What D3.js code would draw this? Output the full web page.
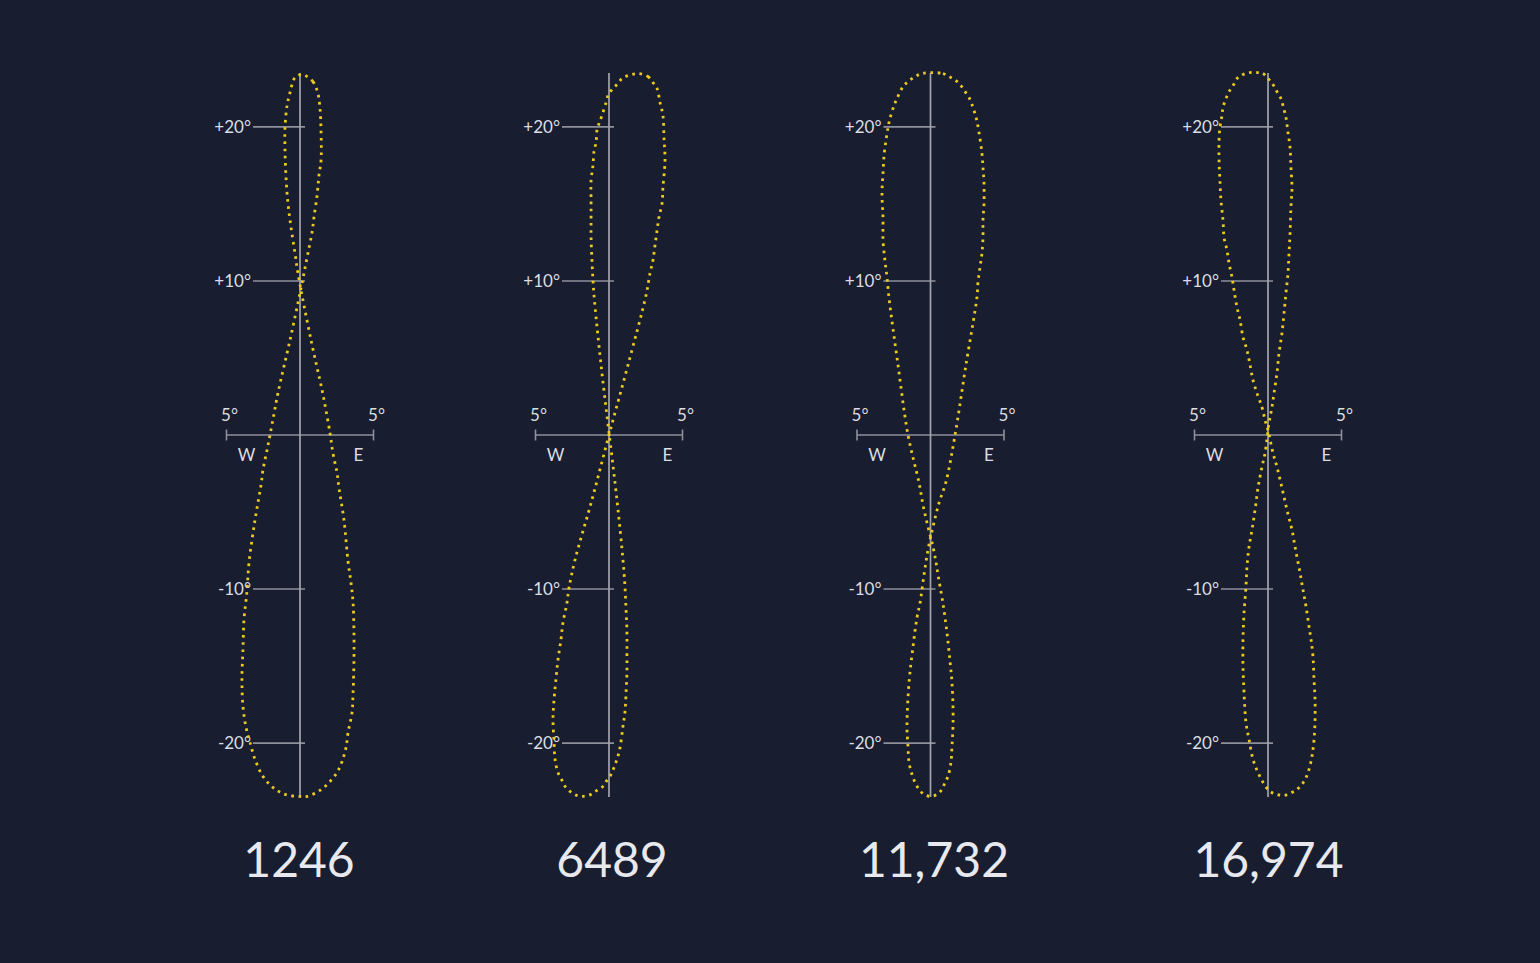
<!DOCTYPE html>
<html>
<head>
<meta charset="utf-8">
<script src="https://cdn.jsdelivr.net/npm/d3@7"></script>
<style>
  html, body { margin: 0; padding: 0; background: #181e2f; }
  svg { display: block; }
  text { font-family: Lato, "Open Sans", sans-serif; }
</style>
</head>
<body>
<script>
// years shown under each analemma
var years = [1246, 6489, 11732, 16974];
var yearLabels = ['1246', '6489', '11,732', '16,974'];

// declination ticks (degrees) and their labels
var decTicks = [20, 10, -10, -20];
var decTickLabels = ['+20°', '+10°', '-10°', '-20°'];

// east-west extent of the small horizontal axis
var ewTicks = [-5, 5];
var ewTickLabels = ['5°', '5°'];
var ewNames = ['W', 'E'];

// analemma outlines: [east-west offset (deg), declination (deg)]
var loop1246 = [
  [0.14, 23.40], [0.88, 22.94], [1.22, 22.16], [1.36, 21.19], [1.43, 19.77],
  [1.43, 17.82], [1.29, 16.85], [1.16, 15.55], [0.95, 14.13], [0.82, 13.16],
  [0.54, 11.80], [0.27, 10.50], [0.04, 9.40], [-0.68, 6.16], [-1.50, 2.72],
  [-1.77, 1.36], [-2.04, 0], [-2.24, -0.97], [-2.52, -2.27], [-2.65, -3.24],
  [-3.06, -5.51], [-3.47, -8.30], [-3.61, -10.17], [-3.81, -11.99], [-3.88, -13.93],
  [-3.95, -15.88], [-3.88, -17.63], [-3.67, -18.99], [-3.40, -19.96], [-3.06, -21.06],
  [-2.52, -22.16], [-1.84, -22.88], [-1.02, -23.33], [-0.07, -23.46], [0.48, -23.46],
  [1.36, -23.07], [2.04, -22.49], [2.52, -21.91], [2.86, -21.19], [3.13, -20.29],
  [3.27, -19.31], [3.54, -18.02], [3.61, -16.72], [3.67, -14.58], [3.67, -12.83],
  [3.61, -10.89], [3.47, -9.59], [3.27, -8.23], [2.99, -5.51], [2.65, -3.43],
  [2.52, -2.46], [2.24, -1.17], [2.04, 0.13], [1.70, 1.94], [1.50, 2.92],
  [0.75, 6.16], [-0.14, 10.50], [-0.34, 11.80], [-0.61, 13.48], [-0.82, 15.04],
  [-0.95, 16.72], [-1.02, 18.47], [-1.02, 19.96], [-0.88, 21.39], [-0.68, 22.23],
  [-0.34, 23.20]
];

var loop6489 = [
  [1.97, 23.46], [2.65, 23.27], [2.99, 22.88], [3.27, 22.49], [3.47, 21.58],
  [3.67, 20.74], [3.74, 19.31], [3.81, 17.82], [3.67, 16.07], [3.61, 15.04],
  [3.40, 14.13], [3.27, 13.29], [3.13, 12.31], [2.99, 11.34], [2.79, 10.50],
  [2.52, 9.07], [1.29, 4.54], [0, 0], [-1.16, -4.21], [-2.31, -8.10],
  [-2.72, -9.92], [-2.86, -10.89], [-3.13, -12.18], [-3.27, -13.29], [-3.47, -14.58],
  [-3.61, -15.88], [-3.74, -17.17], [-3.81, -18.47], [-3.74, -19.90], [-3.67, -21.06],
  [-3.47, -21.91], [-3.20, -22.42], [-2.99, -22.81], [-2.65, -23.14], [-2.18, -23.40],
  [-1.77, -23.46], [-1.22, -23.33], [-0.82, -23.07], [-0.41, -22.81], [-0.14, -22.42],
  [0.14, -22.03], [0.34, -21.58], [0.54, -21.06], [0.75, -20.29], [0.95, -18.92],
  [1.09, -17.95], [1.16, -16.72], [1.22, -15.42], [1.22, -14.13], [1.22, -12.83],
  [1.16, -11.34], [1.09, -9.92], [0.95, -8.10], [0.54, -4.21], [-0.54, 4.54],
  [-1.02, 9.07], [-1.09, 10.05], [-1.16, 11.34], [-1.22, 12.83], [-1.22, 14.13],
  [-1.22, 15.23], [-1.22, 16.53], [-1.09, 17.50], [-1.02, 18.41], [-0.88, 18.99],
  [-0.82, 19.77], [-0.68, 20.22], [-0.48, 20.74], [-0.20, 21.58], [-0.07, 22.03],
  [0.20, 22.42], [0.54, 22.75], [0.88, 23.14], [1.29, 23.33]
];

var loop11732 = [
  [0.10, 23.53], [0.85, 23.46], [1.26, 23.27], [1.73, 23.01], [2.07, 22.68],
  [2.35, 22.29], [2.62, 21.91], [2.82, 21.45], [3.10, 20.61], [3.30, 19.64],
  [3.50, 18.28], [3.57, 17.37], [3.64, 16.33], [3.64, 15.04], [3.57, 13.93],
  [3.57, 12.83], [3.50, 11.80], [3.37, 10.89], [3.23, 9.92], [3.16, 8.94],
  [2.41, 4.54], [1.67, 0], [1.05, -3.05], [0.58, -4.41], [0.17, -5.96],
  [-0.17, -7.45], [-0.44, -9.07], [-0.71, -10.89], [-0.92, -11.86], [-1.19, -13.74],
  [-1.46, -16.07], [-1.60, -18.92], [-1.53, -20.22], [-1.46, -21.26], [-1.26, -22.03],
  [-1.05, -22.55], [-0.78, -23.01], [-0.44, -23.33], [0.03, -23.46], [0.44, -23.33],
  [0.78, -23.01], [0.99, -22.55], [1.19, -22.16], [1.39, -21.26], [1.46, -20.22],
  [1.53, -18.92], [1.53, -17.63], [1.46, -16.07], [1.33, -14.71], [1.12, -12.83],
  [0.85, -10.95], [0.51, -9.07], [0.37, -8.23], [0.17, -7.26], [-0.17, -5.96],
  [-0.51, -4.54], [-0.78, -3.11], [-1.53, 0], [-2.21, 4.54], [-2.82, 8.88],
  [-2.96, 10.24], [-3.10, 11.34], [-3.23, 12.64], [-3.23, 14.13], [-3.30, 15.68],
  [-3.23, 16.98], [-3.16, 18.15], [-3.03, 19.12], [-2.89, 19.96], [-2.76, 20.54],
  [-2.48, 21.39], [-2.28, 21.84], [-1.87, 22.62], [-1.53, 22.94], [-1.05, 23.27],
  [-0.58, 23.46]
];

var loop16974 = [
  [-0.75, 23.53], [-0.34, 23.46], [0, 23.14], [0.34, 22.75], [0.61, 22.29],
  [0.88, 21.84], [1.02, 21.39], [1.22, 20.61], [1.36, 19.64], [1.50, 18.66],
  [1.56, 17.37], [1.63, 16.07], [1.56, 14.78], [1.50, 13.09], [1.43, 11.80],
  [1.36, 10.50], [1.22, 9.20], [1.09, 7.91], [0.95, 6.61], [0.75, 5.31],
  [0.61, 4.02], [0.41, 2.72], [0.27, 1.81], [0.07, 0.78], [-0.20, -1.17],
  [-0.41, -2.07], [-0.68, -3.43], [-0.88, -4.86], [-1.09, -6.16], [-1.29, -7.26],
  [-1.43, -8.55], [-1.50, -9.85], [-1.63, -11.54], [-1.70, -13.29], [-1.70, -15.04],
  [-1.63, -16.72], [-1.50, -18.66], [-1.29, -19.77], [-1.02, -21.06], [-0.68, -21.91],
  [-0.34, -22.55], [0.14, -23.14], [0.61, -23.33], [1.09, -23.40], [1.63, -23.20],
  [1.97, -23.01], [2.31, -22.68], [2.59, -22.23], [2.79, -21.71], [2.99, -20.87],
  [3.13, -19.77], [3.20, -18.47], [3.20, -17.17], [3.13, -15.88], [3.06, -14.39],
  [2.93, -13.29], [2.79, -12.44], [2.59, -11.15], [2.38, -10.05], [2.18, -8.94],
  [1.90, -7.58], [1.63, -6.16], [1.29, -4.86], [0.95, -3.43], [0.61, -2.07],
  [0.34, -1.17], [0, 0.32], [-0.20, 0.97], [-0.41, 1.81], [-0.75, 2.72],
  [-1.02, 3.56], [-1.22, 4.54], [-1.43, 5.51], [-1.70, 6.35], [-1.90, 7.45],
  [-2.11, 8.30], [-2.31, 9.40], [-2.45, 10.24], [-2.65, 11.15], [-2.79, 11.99],
  [-2.99, 12.83], [-3.06, 13.93], [-3.20, 15.23], [-3.27, 16.53], [-3.33, 17.82],
  [-3.33, 19.12], [-3.27, 19.96], [-3.13, 20.74], [-3.06, 21.26], [-2.86, 21.84],
  [-2.65, 22.29], [-2.38, 22.68], [-2.11, 23.14], [-1.70, 23.40], [-1.22, 23.53]
];

var loops = [loop1246, loop6489, loop11732, loop16974];

var width = 1540,
    height = 963,
    centers = [300, 609, 930.5, 1268],        // panel centre lines
    labelCenters = [299, 612, 934, 1268.5],   // year labels sit a touch off-centre
    halfAxis = 73.5;                           // px for 5 degrees

var svg = d3.select('body')
    .append('svg')
     .attr('width', width)
     .attr('height', height);

svg.append('rect')
    .attr('width', width)
    .attr('height', height)
    .attr('fill', '#181e2f');

var y = d3.scaleLinear()
    .domain([-23.5, 23.5])
    .range([797, 73]);

var line = d3.line()
    .curve(d3.curveCatmullRomClosed.alpha(0.5));

years.forEach(function(year, i) {
  var cx = centers[i];
  var x = d3.scaleLinear()
      .domain([-5, 5])
      .range([cx - halfAxis, cx + halfAxis]);

  var g = svg.append('g').attr('class', 'panel');

  // declination ticks
  g.selectAll('line.dtick')
    .data(decTicks)
    .enter().append('line')
     .attr('class', 'dtick')
     .attr('x1', cx - 47).attr('x2', cx + 5)
     .attr('y1', function(d) { return y(d); })
     .attr('y2', function(d) { return y(d); })
     .attr('stroke', '#8e919b')
     .attr('stroke-width', 1.6);

  g.selectAll('text.dlabel')
    .data(decTicks)
    .enter().append('text')
     .attr('class', 'dlabel')
     .attr('x', cx - 49)
     .attr('y', function(d) { return y(d) + 6; })
     .attr('text-anchor', 'end')
     .attr('font-size', 17)
     .attr('fill', '#dcdde3')
     .text(function(d, j) { return decTickLabels[j]; });

  // east-west axis
  g.append('line')
    .attr('x1', x(-5)).attr('x2', x(5))
    .attr('y1', y(0)).attr('y2', y(0))
    .attr('stroke', '#8e919b')
    .attr('stroke-width', 1.6);

  g.selectAll('line.etick')
    .data(ewTicks)
    .enter().append('line')
     .attr('class', 'etick')
     .attr('x1', function(d) { return x(d); })
     .attr('x2', function(d) { return x(d); })
     .attr('y1', y(0) - 5.5).attr('y2', y(0) + 5.5)
     .attr('stroke', '#8e919b')
     .attr('stroke-width', 1.6);

  g.selectAll('text.elabel')
    .data(ewTicks)
    .enter().append('text')
     .attr('class', 'elabel')
     .attr('x', function(d) { return x(d) + 3; })
     .attr('y', y(0) - 14)
     .attr('text-anchor', 'middle')
     .attr('font-size', 17)
     .attr('fill', '#dcdde3')
     .text(function(d, j) { return ewTickLabels[j]; });

  g.selectAll('text.ename')
    .data(ewTicks)
    .enter().append('text')
     .attr('class', 'ename')
     .attr('x', function(d) { return d < 0 ? x(d) + 20 : x(d) - 15; })
     .attr('y', y(0) + 26)
     .attr('text-anchor', 'middle')
     .attr('font-size', 17)
     .attr('fill', '#dcdde3')
     .text(function(d, j) { return ewNames[j]; });

  // north-south axis
  g.append('line')
    .attr('x1', cx).attr('x2', cx)
    .attr('y1', y(23.5)).attr('y2', y(-23.5))
    .attr('stroke', '#a3a5ad')
    .attr('stroke-width', 1.7);

  // analemma
  g.append('path')
    .datum(loops[i])
    .attr('d', line.x(function(d) { return x(d[0]); }).y(function(d) { return y(d[1]); }))
    .attr('fill', 'none')
    .attr('stroke', '#ecca1e')
    .attr('stroke-width', 2.8)
    .attr('stroke-dasharray', '2.6 4.6');

  // year label
  g.append('text')
    .attr('x', labelCenters[i])
    .attr('y', 877)
    .attr('text-anchor', 'middle')
    .attr('font-size', 48)
    .attr('fill', '#e8e9ee')
    .text(yearLabels[i]);
});
</script>
</body>
</html>
